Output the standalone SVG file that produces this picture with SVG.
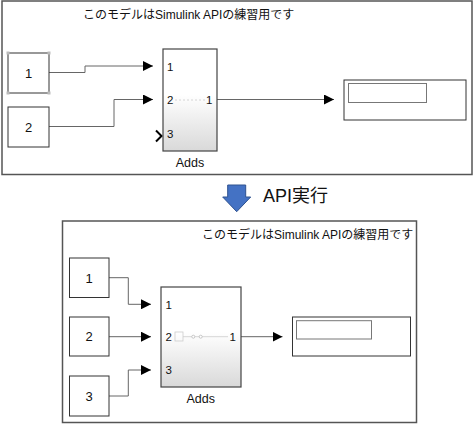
<svg xmlns="http://www.w3.org/2000/svg" width="474" height="424" viewBox="0 0 474 424">
<style>
text{font-family:"Liberation Sans","Noto Sans CJK JP",sans-serif;fill:#111}
.frame{fill:#fff;stroke:#555;stroke-width:1.5}
.blk{fill:#fff;stroke:#333;stroke-width:1}
.adds{fill:url(#g);stroke:#444;stroke-width:1.2}
.wire{fill:none;stroke:#666;stroke-width:1}
.lbl{font-size:13px;text-anchor:middle;dominant-baseline:central}
.port{font-size:11.5px;dominant-baseline:central}
.title{font-size:12px;dominant-baseline:central}
.inner{fill:#fff;stroke:#777;stroke-width:1}
.faint{fill:none;stroke:#ccc;stroke-width:0.8}
</style>
<defs>
<linearGradient id="g" x1="0" y1="0" x2="0" y2="1">
<stop offset="0.45" stop-color="#ffffff"/>
<stop offset="1" stop-color="#d9d9d9"/>
</linearGradient>
<marker id="ah" markerWidth="10" markerHeight="10" refX="10" refY="5" orient="auto" markerUnits="userSpaceOnUse">
<path d="M0,0 L10,5 L0,10 Z" fill="#000"/>
</marker>
</defs>
<rect width="474" height="424" fill="#fff"/>
<g id="frame-top">
<rect class="frame" x="2" y="1" width="470" height="173.5"/>
<text class="title" x="83" y="15">このモデルはSimulink APIの練習用です</text>
</g>
<g id="frame-bottom">
<rect class="frame" x="62.5" y="221" width="354" height="201.5"/>
<text class="title" x="202" y="235">このモデルはSimulink APIの練習用です</text>
</g>
<g id="connectors">
<polyline class="wire" points="49,72.5 85,72.5 85,66 153,66" marker-end="url(#ah)"/>
<polyline class="wire" points="49,126.5 114,126.5 114,99.5 153,99.5" marker-end="url(#ah)"/>
<polyline class="wire" points="217,99.5 334,99.5" marker-end="url(#ah)"/>
<path d="M156,130.5 L161.5,136 L156,141.5" fill="none" stroke="#000" stroke-width="2"/>
<polyline class="wire" points="109,277.7 128.3,277.7 128.3,304.3 151,304.3" marker-end="url(#ah)"/>
<polyline class="wire" points="109,336.7 151,336.7" marker-end="url(#ah)"/>
<polyline class="wire" points="109,396 128.3,396 128.3,370 151,370" marker-end="url(#ah)"/>
<polyline class="wire" points="241,336.7 282.5,336.7" marker-end="url(#ah)"/>
</g>
<g id="in1-top">
<rect class="blk" x="8" y="53" width="41" height="40"/>
<g fill="#bbb"><rect x="6.5" y="51.5" width="3" height="3"/><rect x="47.5" y="51.5" width="3" height="3"/><rect x="6.5" y="91.5" width="3" height="3"/><rect x="47.5" y="91.5" width="3" height="3"/></g>
<text class="lbl" x="28.5" y="73">1</text>
</g>
<g id="in2-top">
<rect class="blk" x="8" y="107" width="41" height="40"/>
<text class="lbl" x="28.5" y="127">2</text>
</g>
<g id="adds-top">
<rect class="adds" x="163" y="49" width="54" height="102"/>
<line class="faint" x1="175" y1="100" x2="205" y2="100" stroke-dasharray="2,2"/>
<text class="port" x="167" y="67">1</text>
<text class="port" x="167" y="100">2</text>
<text class="port" x="167" y="134">3</text>
<text class="port" x="206" y="100">1</text>
<text class="lbl" x="190" y="163" style="font-size:12.5px">Adds</text>
</g>
<g id="display-top">
<rect class="blk" x="344" y="80" width="122" height="40"/>
<rect class="inner" x="348.5" y="83.5" width="78" height="19"/>
</g>
<g id="api-arrow">
<path d="M227.7,185 L245.7,185 L245.7,197 L250.7,197 L236.7,211.7 L222.7,197 L227.7,197 Z" fill="#4472c4" stroke="#2f528f" stroke-width="1"/>
<text x="263" y="196" style="font-size:18px;dominant-baseline:central">API実行</text>
</g>
<g id="in1-bottom">
<rect class="blk" x="69.5" y="258" width="39.5" height="39.5"/>
<text class="lbl" x="89" y="278">1</text>
</g>
<g id="in2-bottom">
<rect class="blk" x="69.5" y="317" width="39.5" height="39"/>
<text class="lbl" x="89" y="336.7">2</text>
</g>
<g id="in3-bottom">
<rect class="blk" x="69.5" y="376" width="39.5" height="40"/>
<text class="lbl" x="89" y="396">3</text>
</g>
<g id="adds-bottom">
<rect class="adds" x="161" y="287" width="80" height="100"/>
<rect x="175" y="332" width="8" height="9" fill="none" stroke="#ccc" stroke-width="0.8"/>
<line class="faint" x1="183" y1="336.7" x2="228" y2="336.7"/>
<circle cx="193.3" cy="336.7" r="1.5" fill="#fff" stroke="#bbb" stroke-width="0.8"/>
<circle cx="200.7" cy="336.7" r="1.5" fill="#fff" stroke="#bbb" stroke-width="0.8"/>
<text class="port" x="165.5" y="304.5">1</text>
<text class="port" x="165.5" y="337">2</text>
<text class="port" x="165.5" y="370">3</text>
<text class="port" x="229.5" y="337">1</text>
<text class="lbl" x="200.7" y="398.5" style="font-size:12.5px">Adds</text>
</g>
<g id="display-bottom">
<rect class="blk" x="292.5" y="317" width="118" height="39"/>
<rect class="inner" x="296.5" y="320.7" width="75" height="18.3"/>
</g>
</svg>
